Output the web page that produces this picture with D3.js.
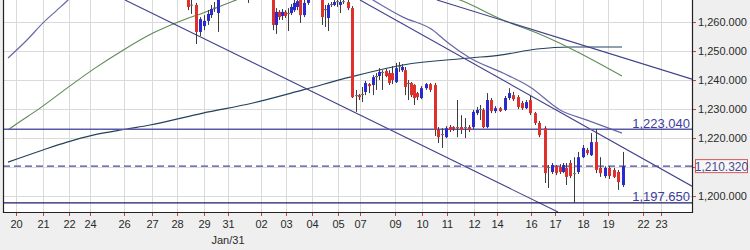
<!DOCTYPE html>
<html><head><meta charset="utf-8">
<script src="https://cdn.jsdelivr.net/npm/d3@7"></script>
<style>
html,body{margin:0;padding:0;background:#efefef;}
svg{display:block;font-family:Arial,"Liberation Sans",sans-serif;}
</style></head><body>
<svg id="chart" width="750" height="250"></svg>
<script>
// ---- data (bar position in 4h-bar units, OHLC prices) ----
const barT = [46.25,47,48.25,49.25,50.25,51.25,52,52.75,53.75,61.25,
67.5,68.25,69,69.75,70.5,71.25,72,72.75,73.5,74.25,75.25,76.25,
79.75,80.5,81.25,82,82.75,83.5,84.25,85,86.25,87.25,
88.25,89,89.75,90.5,91.5,92.5,93.25,94,94.75,95.75,96.5,97.25,98.25,99,99.75,100.5,101.25,102,102.75,103.5,104.5,105.75,106.75,108,
108.75,109.75,110.75,111.75,112.5,113.5,114.5,115.5,116.5,117.5,118.5,119.25,120,121,122,123,124.25,125.5,126.5,127.5,128.75,129.75,130.75,131.75,133,134,135.5,
136.25,137.25,138.25,139.25,140,140.75,141.75,142.75,143.75,145,146,147,148.25,149.25,150.5,151.5,152.75,153.75,155];
const opens = [1271.0,1265.9,1265.9,1256.6,1258.6,1260.4,1262.4,1264.8,1263.1,1268.6,
1269.3,1259.0,1263.5,1262.1,1263.5,1262.8,1263.1,1264.1,1265.2,1267.6,1262.4,1266.6,
1269.3,1264.1,1261.4,1265.9,1265.9,1266.9,1265.9,1266.9,1266.9,1264.8,
1234.5,1234.8,1234.8,1235.9,1238.6,1238.3,1241.0,1241.4,1242.4,1243.1,1242.4,1242.4,1239.3,1244.5,1243.4,1243.4,1238.6,1239.0,1238.3,1235.5,1233.8,1237.2,1238.6,1238.3,
1222.8,1221.0,1220.3,1223.8,1223.8,1223.4,1223.8,1223.4,1223.8,1223.8,1228.6,1229.7,1229.7,1223.8,1233.1,1229.3,1230.3,1229.7,1233.8,1234.8,1234.1,1232.1,1230.3,1233.1,1228.6,1225.2,1223.4,
1209.7,1208.3,1210.3,1210.0,1208.3,1209.7,1211.4,1207.6,1208.3,1213.4,1215.9,1214.1,1218.6,1209.7,1206.9,1209.7,1209.0,1208.3,1203.8];
const highs = [1272.8,1267.6,1266.6,1261.7,1262.4,1264.1,1265.9,1266.9,1271.0,1270.3,
1270.3,1264.8,1264.1,1264.5,1264.1,1264.8,1266.2,1267.6,1268.6,1268.6,1267.6,1269.3,
1270.3,1265.9,1266.6,1266.9,1267.6,1268.3,1268.3,1268.3,1267.6,1265.5,
1236.6,1235.2,1237.6,1239.7,1239.0,1241.7,1242.4,1244.1,1243.4,1243.8,1243.4,1244.8,1245.9,1246.2,1245.5,1244.5,1240.0,1239.3,1238.6,1235.9,1237.9,1239.0,1239.0,1239.0,
1223.8,1223.4,1224.1,1224.5,1224.1,1233.1,1227.9,1226.9,1224.5,1229.7,1230.7,1231.4,1230.3,1235.5,1233.8,1231.0,1230.7,1234.5,1237.2,1235.9,1234.8,1232.8,1233.1,1234.5,1229.0,1225.9,1224.1,
1210.7,1211.4,1210.7,1211.0,1211.4,1211.4,1212.4,1213.4,1215.2,1217.6,1216.6,1221.7,1223.04,1213.4,1210.3,1210.3,1209.7,1209.0,1215.2];
const lows = [1264.1,1262.8,1252.4,1255.2,1257.2,1259.0,1261.4,1263.5,1256.6,1266.6,
1257.2,1255.9,1260.7,1260.7,1261.4,1256.9,1262.4,1263.5,1264.1,1259.7,1261.7,1265.9,
1259.0,1258.3,1256.9,1265.2,1265.5,1265.2,1263.1,1266.2,1264.1,1233.8,
1229.0,1233.1,1232.4,1234.8,1235.5,1234.8,1236.6,1240.0,1236.6,1241.0,1238.3,1238.6,1239.0,1242.8,1242.8,1234.8,1233.1,1234.1,1231.4,1233.1,1233.4,1236.6,1235.9,1220.7,
1218.3,1216.6,1220.0,1222.1,1222.4,1220.3,1221.4,1220.0,1222.1,1223.1,1227.9,1226.2,1223.4,1223.4,1228.6,1228.6,1229.0,1229.3,1233.1,1232.8,1230.0,1229.7,1230.0,1227.9,1224.5,1220.3,1204.5,
1202.8,1207.6,1207.2,1207.6,1207.9,1203.8,1206.2,1197.65,1207.6,1213.1,1214.1,1213.8,1207.9,1206.6,1206.2,1205.9,1206.2,1202.1,1203.1];
const closes = [1265.2,1266.0,1256.6,1261.0,1260.4,1262.8,1264.5,1265.0,1269.3,1268.3,
1259.0,1263.5,1261.7,1263.5,1262.1,1263.1,1265.2,1266.6,1267.2,1262.4,1266.6,1268.3,
1261.7,1264.5,1265.9,1266.2,1266.9,1267.2,1266.9,1267.2,1264.8,1234.1,
1234.8,1234.1,1235.2,1239.0,1237.9,1241.0,1241.4,1242.8,1242.8,1241.4,1239.0,1240.0,1244.1,1244.8,1244.5,1237.6,1239.0,1234.8,1233.8,1234.1,1237.2,1238.6,1236.6,1222.8,
1220.3,1221.4,1223.4,1222.8,1223.1,1223.8,1222.8,1223.8,1222.8,1229.0,1229.7,1230.0,1223.8,1233.1,1229.3,1230.3,1229.3,1233.8,1235.5,1233.4,1230.7,1230.3,1232.4,1228.6,1225.2,1221.0,1207.9,
1210.0,1210.7,1207.9,1208.3,1210.7,1206.6,1206.9,1207.9,1213.4,1216.6,1214.8,1218.6,1209.0,1207.9,1209.7,1206.9,1206.6,1204.8,1210.32];

// moving averages / trend lines as [barT, price]
const maFast = [[1.25,1247.6],[6,1253.8],[10,1259.7],[13.5,1264.1],[16.25,1267.6],[19.25,1271.7],[36.75,1281.4],[61.75,1284.8],[84.25,1274.5],
  [92.5,1267.6],[100,1261.7],[107.5,1257.2],[111,1253.1],[116.75,1247.6],[125,1242.4],[131.75,1237.6],[139.25,1229.7],[146,1226.2],[154.75,1221.7]];
const maMid = [[1.25,1222.8],[3,1224.5],[9.25,1230.3],[16,1237.2],[23,1244.1],[30,1250.3],[37.5,1256.2],[44.25,1260.3],[50.5,1263.4],[57.5,1267.2],
  [69.25,1272.8],[86.75,1275.2],[104.25,1271.7],[114.25,1267.6],[125,1260.7],[133.5,1256.2],[141.75,1251.0],[154.75,1241.4]];
const maSlow = [[1.25,1211.7],[10,1215.9],[16,1218.6],[22.5,1221.0],[31,1223.1],[36.75,1224.5],[50,1228.6],[62.5,1232.1],[75,1236.6],[86.75,1241.0],
  [100,1245.2],[116.75,1247.6],[124.25,1248.6],[133.5,1250.7],[141.75,1251.4],[154.75,1251.4]];
const channelLower = [[30.5,1267.6],[138.75,1194.5]];
const channelUpper = [[89.25,1267.6],[172.25,1203.4]];
const trendLong = [[108.5,1267.6],[172.25,1240.3]];
const resistanceLevel = 1223.04;
const lastPrice = 1210.32;
const supportLevel = 1197.65;

const tickT = [3.25,10,16.5,21.75,30.25,37.25,43.5,50.25,56.25,64.5,70.75,77.25,83.75,89.25,98,104.75,111,117.75,123.5,132,138,145,151.25,160,164.5];
const tickLabels = ["20","21","22","24","26","27","28","29","31","02","03","04","05","07","09","10","11","12","14","16","17","18","19","22","23"];
const monthLabel = "Jan/31";
const monthLabelT = 56.25;
const yTicks = [1200,1210,1220,1230,1240,1250,1260];

// ---- drawing ----
const svg = d3.select("#chart");
const L = 3, R = 692, T = 0, B = 212;
const x = d3.scaleLinear().domain([0,172.25]).range([L,R]);
const y = d3.scaleLinear().domain([1194.5,1267.6]).range([B,T]);

svg.append("rect").attr("width",750).attr("height",250).attr("fill","#efefef");
svg.append("rect").attr("x",L).attr("y",T).attr("width",R-L).attr("height",B-T).attr("fill","#ffffff");

svg.append("defs").append("clipPath").attr("id","plotclip")
  .append("rect").attr("x",L).attr("y",T).attr("width",R-L).attr("height",B-T);

const grid = svg.append("g");
grid.selectAll("line.v").data(tickT).join("line")
  .attr("x1",d=>Math.round(x(d))+0.5).attr("x2",d=>Math.round(x(d))+0.5)
  .attr("y1",T).attr("y2",B).attr("stroke","#dadada").attr("stroke-width",1);
grid.selectAll("line.h").data(yTicks).join("line")
  .attr("y1",d=>Math.round(y(d))+0.5).attr("y2",d=>Math.round(y(d))+0.5)
  .attr("x1",L).attr("x2",R).attr("stroke","#dadada").attr("stroke-width",1);

const plot = svg.append("g").attr("clip-path","url(#plotclip)");
const line = d3.line().x(d=>x(d[0])).y(d=>y(d[1]));
const curve = d3.line().x(d=>x(d[0])).y(d=>y(d[1])).curve(d3.curveMonotoneX);

plot.append("path").datum(maSlow).attr("d",curve).attr("fill","none").attr("stroke","#24425e").attr("stroke-width",1.1);
plot.append("path").datum(maMid).attr("d",curve).attr("fill","none").attr("stroke","#5e8c55").attr("stroke-width",1.1);
plot.append("path").datum(maFast).attr("d",curve).attr("fill","none").attr("stroke","#6868a8").attr("stroke-width",1.2);
[channelLower, channelUpper, trendLong].forEach(pts=>{
  plot.append("path").datum(pts).attr("d",line).attr("fill","none").attr("stroke","#40408c").attr("stroke-width",1.1);
});

// horizontal levels
plot.append("line").attr("x1",L).attr("x2",R).attr("y1",y(resistanceLevel)).attr("y2",y(resistanceLevel))
  .attr("stroke","#5a5aaa").attr("stroke-width",1.3);
plot.append("line").attr("x1",L).attr("x2",R).attr("y1",y(lastPrice)).attr("y2",y(lastPrice))
  .attr("stroke","#4a4aa8").attr("stroke-width",1.3).attr("stroke-dasharray","7,4");
plot.append("line").attr("x1",L).attr("x2",R).attr("y1",y(supportLevel)).attr("y2",y(supportLevel))
  .attr("stroke","#1c1c66").attr("stroke-width",1.3);

// candles
const candles = barT.map((t,i)=>({t,o:opens[i],h:highs[i],l:lows[i],c:closes[i]}));
const cg = plot.append("g");
cg.selectAll("line").data(candles).join("line")
  .attr("x1",d=>Math.round(x(d.t))+0.5).attr("x2",d=>Math.round(x(d.t))+0.5)
  .attr("y1",d=>y(d.h)).attr("y2",d=>y(d.l))
  .attr("stroke","#3c3c3c").attr("stroke-width",1);
cg.selectAll("rect").data(candles).join("rect")
  .attr("x",d=>Math.round(x(d.t))-1).attr("width",3)
  .attr("y",d=>y(Math.max(d.o,d.c)))
  .attr("height",d=>Math.max(1,Math.abs(y(d.o)-y(d.c))))
  .attr("fill",d=>Math.abs(d.c-d.o)<0.45 ? "#707070" : (d.c<d.o ? "#e0302c" : "#2a2ad2"));

// level labels
svg.append("text").attr("x",690).attr("y",y(resistanceLevel)-1.5).attr("text-anchor","end")
  .attr("font-size",13).attr("fill","#3c3ca0").text(d3.format(",.3f")(resistanceLevel));
svg.append("text").attr("x",690).attr("y",y(supportLevel)-1.5).attr("text-anchor","end")
  .attr("font-size",13).attr("fill","#3c3ca0").text(d3.format(",.3f")(supportLevel));

// axes (the 1,210 label is covered by the last-price box in the reference)
const yAxis = d3.axisRight(y).tickValues(yTicks)
  .tickFormat(d=>Math.abs(d-lastPrice)<2 ? "" : d3.format(",.3f")(d)).tickSize(4).tickPadding(2);
const ya = svg.append("g").attr("transform",`translate(${R},0)`).call(yAxis);
ya.select(".domain").remove();
ya.selectAll(".tick line").attr("stroke","#c84040");
ya.selectAll(".tick text").attr("font-size",11).attr("fill","#2a2a2a").attr("font-family","Arial,'Liberation Sans',sans-serif");

const xAxis = d3.axisBottom(x).tickValues(tickT).tickFormat((d,i)=>tickLabels[i]).tickSize(4).tickPadding(4);
const xa = svg.append("g").attr("transform",`translate(0,${B})`).call(xAxis);
xa.select(".domain").remove();
xa.selectAll(".tick line").attr("stroke","#c84040");
xa.selectAll(".tick text").attr("font-size",11).attr("fill","#2a2a2a").attr("font-family","Arial,'Liberation Sans',sans-serif");

svg.append("text").attr("x",x(monthLabelT)).attr("y",244).attr("text-anchor","middle")
  .attr("font-size",11).attr("fill","#2a2a2a").text(monthLabel);

// last price box
const lp = y(lastPrice);
svg.append("rect").attr("x",695.5).attr("y",lp-6.5).attr("width",52).attr("height",13)
  .attr("fill","#f7f7f7").attr("stroke","#d45a5a").attr("stroke-width",1);
svg.append("text").attr("x",721.5).attr("y",lp+4.5).attr("text-anchor","middle")
  .attr("font-size",12).attr("fill","#4a4a90").text(d3.format(",.3f")(lastPrice));

// border
svg.append("path").attr("d",`M${L+0.5},${T}V${B+0.5}H${R+0.5}V${T}`)
  .attr("fill","none").attr("stroke","#222").attr("stroke-width",1.2);
</script>
</body></html>
